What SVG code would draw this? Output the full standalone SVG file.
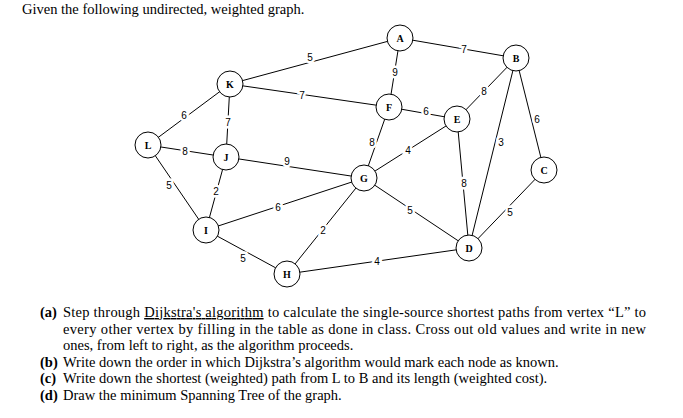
<svg xmlns="http://www.w3.org/2000/svg" width="683" height="418" viewBox="0 0 683 418">
<style>
.e line{stroke:#000;stroke-width:1}
.w{font-family:"Liberation Sans",Arial,sans-serif;font-size:10px;text-anchor:middle;dominant-baseline:central;stroke:#fff;stroke-width:5;paint-order:stroke;fill:#000}
.n circle{fill:#fff;stroke:#000;stroke-width:1}
.n text{font-family:"Liberation Serif","Times New Roman",serif;font-weight:bold;font-size:10px;text-anchor:middle;dominant-baseline:central}
.t{font-family:"Liberation Serif","Times New Roman",serif;font-size:14.5px}
.b{font-weight:bold}
</style>
<rect width="683" height="418" fill="#fff"/>
<text class="t" x="22" y="14">Given the following undirected, weighted graph.</text>
<g class="e" id="edges">
<line x1="230" y1="84" x2="400" y2="38"/><line x1="230" y1="84" x2="389" y2="107"/>
<line x1="148" y1="145" x2="230" y2="84"/><line x1="230" y1="84" x2="226" y2="157"/>
<line x1="148" y1="145" x2="226" y2="157"/><line x1="226" y1="157" x2="364" y2="178"/>
<line x1="148" y1="145" x2="206" y2="230"/><line x1="226" y1="157" x2="206" y2="230"/>
<line x1="206" y1="230" x2="364" y2="178"/><line x1="206" y1="230" x2="287" y2="274"/>
<line x1="364" y1="178" x2="287" y2="274"/><line x1="287" y1="274" x2="469" y2="248"/>
<line x1="400" y1="38" x2="389" y2="107"/><line x1="400" y1="38" x2="516" y2="58"/>
<line x1="389" y1="107" x2="457" y2="119"/><line x1="389" y1="107" x2="364" y2="178"/>
<line x1="457" y1="119" x2="364" y2="178"/><line x1="457" y1="119" x2="516" y2="58"/>
<line x1="457" y1="119" x2="469" y2="248"/><line x1="516" y1="58" x2="469" y2="248"/>
<line x1="516" y1="58" x2="544" y2="170"/><line x1="544" y1="170" x2="469" y2="248"/>
<line x1="364" y1="178" x2="469" y2="248"/>
<text class="w" x="310" y="57">5</text><text class="w" x="302" y="95">7</text>
<text class="w" x="184" y="115">6</text><text class="w" x="228" y="122">7</text>
<text class="w" x="185" y="151">8</text><text class="w" x="287" y="161">9</text>
<text class="w" x="169" y="185">5</text><text class="w" x="216" y="191">2</text>
<text class="w" x="278" y="207">6</text><text class="w" x="243" y="258">5</text>
<text class="w" x="323" y="230">2</text><text class="w" x="377" y="261">4</text>
<text class="w" x="395" y="72">9</text><text class="w" x="464" y="49">7</text>
<text class="w" x="426" y="111">6</text><text class="w" x="372" y="142">8</text>
<text class="w" x="408" y="150">4</text><text class="w" x="484" y="91">8</text>
<text class="w" x="464" y="183">8</text><text class="w" x="501" y="142">3</text>
<text class="w" x="537" y="119">6</text><text class="w" x="510" y="212">5</text>
<text class="w" x="410" y="210">5</text>
</g>
<g class="n" id="A"><circle cx="400" cy="38" r="13"/><text x="400" y="38">A</text></g>
<g class="n" id="B"><circle cx="516" cy="58" r="13"/><text x="516" y="58">B</text></g>
<g class="n" id="C"><circle cx="544" cy="170" r="13"/><text x="544" y="170">C</text></g>
<g class="n" id="D"><circle cx="469" cy="248" r="13"/><text x="469" y="248">D</text></g>
<g class="n" id="E"><circle cx="457" cy="119" r="13"/><text x="457" y="119">E</text></g>
<g class="n" id="F"><circle cx="389" cy="107" r="13"/><text x="389" y="107">F</text></g>
<g class="n" id="G"><circle cx="364" cy="178" r="13"/><text x="364" y="178">G</text></g>
<g class="n" id="H"><circle cx="287" cy="274" r="13"/><text x="287" y="274">H</text></g>
<g class="n" id="I"><circle cx="206" cy="230" r="13"/><text x="206" y="230">I</text></g>
<g class="n" id="J"><circle cx="226" cy="157" r="13"/><text x="226" y="157">J</text></g>
<g class="n" id="K"><circle cx="230" cy="84" r="13"/><text x="230" y="84">K</text></g>
<g class="n" id="L"><circle cx="148" cy="145" r="13"/><text x="148" y="145">L</text></g>
<g id="questions">
<text class="t b" x="40" y="317">(a)</text>
<text class="t" x="63" y="317" textLength="583" lengthAdjust="spacing">Step through <tspan text-decoration="underline">Dijkstra's algorithm</tspan> to calculate the single-source shortest paths from vertex “L” to</text>
<text class="t" x="63" y="334" textLength="583" lengthAdjust="spacing">every other vertex by filling in the table as done in class. Cross out old values and write in new</text>
<text class="t" x="63" y="350">ones, from left to right, as the algorithm proceeds.</text>
<text class="t b" x="40" y="367">(b)</text><text class="t" x="63" y="367">Write down the order in which Dijkstra’s algorithm would mark each node as known.</text>
<text class="t b" x="40" y="383">(c)</text><text class="t" x="63" y="383">Write down the shortest (weighted) path from L to B and its length (weighted cost).</text>
<text class="t b" x="40" y="400">(d)</text><text class="t" x="63" y="400">Draw the minimum Spanning Tree of the graph.</text>
</g>
</svg>
